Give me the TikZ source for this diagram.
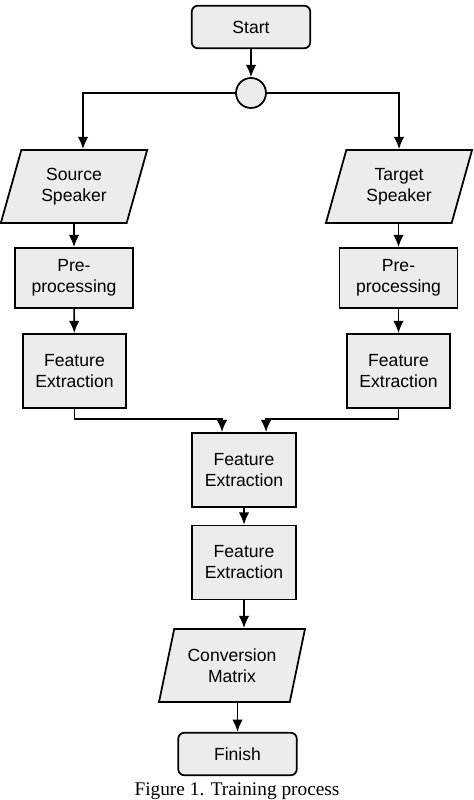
\documentclass[tikz,border=0pt]{standalone}
\usepackage{fontspec}
\setmainfont{Liberation Sans}
\newfontfamily\piefont{Liberation Serif}
\usetikzlibrary{shapes.geometric,arrows.meta}

\begin{document}
\begin{tikzpicture}[
  caja/.style={draw, line width=1pt, fill=gray!15, align=center,
    font=\fontsize{10}{12}\selectfont, inner sep=0pt},
  proceso/.style={caja, minimum width=2.36cm, minimum height=1.2cm},
  extrae/.style={caja, minimum width=2.07cm, minimum height=1.48cm},
  extremo/.style={caja, rounded corners=0.12cm, minimum width=2.37cm, minimum height=0.85cm},
  datos/.style={caja, trapezium, trapezium left angle=71, trapezium right angle=109,
    trapezium stretches=true, minimum width=2.93cm, minimum height=1.46cm},
  union/.style={caja, circle, minimum size=0.6cm},
  flecha/.style={line width=0.9pt, -{Latex[length=7pt,width=6pt]}}
]
\useasboundingbox (0,0) rectangle (9.48,16);

% Inicio y bifurcación
\node[extremo] (start) at (5.02,15.46) {Start};
\node[union] (split) at (5.02,14.14) {};

% Rama izquierda
\node[datos] (src) at (1.48,12.27) {Source\\Speaker};
\node[proceso] (preL) at (1.48,10.44) {Pre-\\processing};
\node[extrae] (feL) at (1.49,8.58) {Feature\\Extraction};

% Rama derecha
\node[datos] (tgt) at (7.98,12.27) {Target\\Speaker};
\node[proceso] (preR) at (7.97,10.44) {Pre-\\processing};
\node[extrae] (feR) at (7.97,8.58) {Feature\\Extraction};

% Parte central
\node[extrae] (fe1) at (4.88,6.6) {Feature\\Extraction};
\node[extrae] (fe2) at (4.88,4.75) {Feature\\Extraction};
\node[datos] (conv) at (4.64,2.69) {Conversion\\Matrix};
\node[extremo] (fin) at (4.75,0.92) {Finish};

% Pie de figura
\node[font=\piefont\fontsize{11}{13}\selectfont, anchor=base] (pie) at (4.74,0.08)
  {Figure 1. Training process};

% Conexiones
\draw[flecha] (start) -- (split);
\draw[flecha] (split.west) -| ([xshift=0.18cm]src.north);
\draw[flecha] (split.east) -| (tgt.north);
\draw[flecha] (src) -- (preL);
\draw[flecha] (preL) -- (feL);
\draw[flecha] (tgt.south -| preR.north) -- (preR);
\draw[flecha] (preR) -- (feR);
\draw[flecha] (feL.south) -- ++(0,-0.2) -| ([xshift=-0.44cm]fe1.north);
\draw[flecha] (feR.south) -- ++(0,-0.2) -| ([xshift=0.44cm]fe1.north);
\draw[flecha] (fe1) -- (fe2);
\draw[flecha] (fe2.south) -- (fe2.south |- conv.north);
\draw[flecha] (fin.north |- conv.south) -- (fin.north);

\end{tikzpicture}
\end{document}
